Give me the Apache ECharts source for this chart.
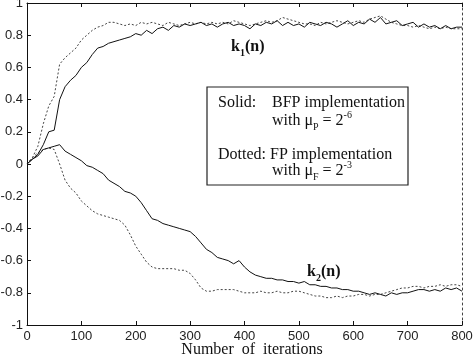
<!DOCTYPE html>
<html>
<head>
<meta charset="utf-8">
<script src="https://cdn.jsdelivr.net/npm/echarts@6/dist/echarts.min.js"></script>
<style>html,body{margin:0;padding:0;background:#fff}#c{width:474px;height:355px}</style>
</head>
<body>
<div id="c"></div>
<script>
// iterations (step 10)
const iterations = [0,10,20,30,40,50,60,70,80,90,100,110,120,130,140,150,160,170,180,190,200,210,220,230,240,250,260,270,280,290,300,310,320,330,340,350,360,370,380,390,400,410,420,430,440,450,460,470,480,490,500,510,520,530,540,550,560,570,580,590,600,610,620,630,640,650,660,670,680,690,700,710,720,730,740,750,760,770,780,790,800];

// k1(n), BFP (solid)
const k1Solid = [0.00,0.03,0.06,0.12,0.20,0.21,0.40,0.48,0.52,0.55,0.60,0.63,0.68,0.72,0.73,0.75,0.76,0.77,0.78,0.79,0.81,0.80,0.83,0.81,0.84,0.85,0.83,0.86,0.85,0.87,0.86,0.87,0.88,0.86,0.87,0.85,0.87,0.88,0.86,0.87,0.86,0.84,0.87,0.86,0.88,0.87,0.89,0.86,0.88,0.86,0.87,0.85,0.88,0.87,0.86,0.88,0.87,0.85,0.87,0.89,0.86,0.88,0.87,0.90,0.88,0.91,0.87,0.88,0.89,0.86,0.87,0.88,0.85,0.87,0.85,0.86,0.84,0.86,0.84,0.85,0.85];

// k1(n), FP (dotted)
const k1Dotted = [0.00,0.04,0.11,0.25,0.36,0.42,0.62,0.66,0.69,0.72,0.77,0.80,0.83,0.85,0.86,0.88,0.88,0.87,0.86,0.87,0.86,0.88,0.87,0.88,0.87,0.86,0.88,0.87,0.86,0.87,0.88,0.87,0.88,0.87,0.88,0.87,0.88,0.87,0.89,0.88,0.87,0.86,0.87,0.88,0.89,0.88,0.89,0.91,0.90,0.89,0.88,0.87,0.87,0.86,0.88,0.87,0.88,0.89,0.88,0.87,0.88,0.89,0.88,0.90,0.91,0.92,0.90,0.88,0.87,0.86,0.86,0.85,0.86,0.85,0.84,0.85,0.84,0.85,0.84,0.84,0.84];

// k2(n), BFP (solid)
const k2Solid = [0.00,0.03,0.05,0.09,0.10,0.11,0.12,0.08,0.06,0.04,0.02,-0.01,-0.02,-0.04,-0.06,-0.10,-0.12,-0.14,-0.17,-0.18,-0.20,-0.24,-0.29,-0.34,-0.35,-0.37,-0.38,-0.39,-0.40,-0.41,-0.42,-0.45,-0.49,-0.53,-0.55,-0.58,-0.59,-0.60,-0.62,-0.60,-0.64,-0.67,-0.69,-0.70,-0.71,-0.71,-0.72,-0.72,-0.73,-0.73,-0.74,-0.73,-0.75,-0.75,-0.76,-0.76,-0.77,-0.77,-0.78,-0.78,-0.79,-0.79,-0.80,-0.81,-0.80,-0.81,-0.82,-0.80,-0.81,-0.80,-0.80,-0.79,-0.78,-0.78,-0.79,-0.78,-0.79,-0.77,-0.78,-0.77,-0.79];

// k2(n), FP (dotted)
const k2Dotted = [0.00,0.04,0.07,0.09,0.10,0.09,0.00,-0.10,-0.15,-0.18,-0.23,-0.26,-0.29,-0.31,-0.32,-0.33,-0.34,-0.35,-0.38,-0.44,-0.51,-0.56,-0.61,-0.64,-0.65,-0.65,-0.65,-0.65,-0.66,-0.66,-0.68,-0.72,-0.77,-0.79,-0.79,-0.78,-0.78,-0.78,-0.78,-0.79,-0.80,-0.80,-0.80,-0.79,-0.80,-0.80,-0.79,-0.80,-0.80,-0.79,-0.79,-0.80,-0.81,-0.82,-0.82,-0.83,-0.83,-0.82,-0.83,-0.82,-0.82,-0.81,-0.81,-0.82,-0.81,-0.81,-0.80,-0.79,-0.78,-0.77,-0.77,-0.76,-0.76,-0.77,-0.76,-0.76,-0.75,-0.76,-0.75,-0.75,-0.76];

const xTicks = {min: 0, max: 800, interval: 100};
const yTicks = {min: -1, max: 1, interval: 0.2};
const xAxisTitle = 'Number  of  iterations';

const pairs = arr => iterations.map((n, i) => [n, arr[i]]);
const serif = '"Liberation Serif","DejaVu Serif",serif';
const sans = '"Liberation Sans","DejaVu Sans",sans-serif';

const chart = echarts.init(document.getElementById('c'), null, {renderer: 'canvas'});
const lineSolid = {color: '#111', width: 1, type: 'solid'};
const lineDotted = {color: '#444', width: 1, type: [2, 2]};

const richMu = {
  n: {fontFamily: serif, fontSize: 16, lineHeight: 22, verticalAlign: 'middle'},
  sub: {fontFamily: serif, fontSize: 10, lineHeight: 10, verticalAlign: 'bottom'},
  sup: {fontFamily: serif, fontSize: 10, lineHeight: 10, verticalAlign: 'top'}
};
const richK = {
  n: {fontFamily: serif, fontSize: 16, fontWeight: 'bold', lineHeight: 22, verticalAlign: 'middle'},
  sub: {fontFamily: serif, fontSize: 10, fontWeight: 'bold', lineHeight: 10, verticalAlign: 'bottom'}
};

chart.setOption({
  animation: false,
  backgroundColor: '#fff',
  grid: {left: 27, right: 12, top: 3, bottom: 30, containLabel: false, outerBoundsMode: 'none'},
  xAxis: [{
    type: 'value', min: xTicks.min, max: xTicks.max, interval: xTicks.interval,
    position: 'bottom',
    axisLine: {onZero: false, lineStyle: {color: '#111', width: 1}},
    axisTick: {inside: true, length: 4, lineStyle: {color: '#111'}},
    axisLabel: {color: '#222', fontFamily: sans, fontSize: 13, margin: 5},
    splitLine: {show: false}
  }, {
    type: 'value', min: xTicks.min, max: xTicks.max, interval: xTicks.interval,
    position: 'top',
    axisLine: {onZero: false, lineStyle: {color: '#111', width: 1}},
    axisTick: {inside: true, length: 4, lineStyle: {color: '#111'}},
    axisLabel: {show: false}, splitLine: {show: false}
  }],
  yAxis: [{
    type: 'value', min: yTicks.min, max: yTicks.max, interval: yTicks.interval,
    position: 'left',
    axisLine: {show: true, onZero: false, lineStyle: {color: '#111', width: 1}},
    axisTick: {show: true, inside: true, length: 4, lineStyle: {color: '#111'}},
    axisLabel: {color: '#222', fontFamily: sans, fontSize: 13, margin: 4,
      formatter: v => String(Math.round(v * 10) / 10)},
    splitLine: {show: false}
  }, {
    type: 'value', min: yTicks.min, max: yTicks.max, interval: yTicks.interval,
    position: 'right',
    axisLine: {show: true, onZero: false, lineStyle: {color: '#444', width: 1, type: [2, 3]}},
    axisTick: {show: false}, axisLabel: {show: false}, splitLine: {show: false}
  }],
  series: [
    {type: 'line', name: 'k1 FP', data: pairs(k1Dotted), showSymbol: false, lineStyle: lineDotted, z: 2},
    {type: 'line', name: 'k2 FP', data: pairs(k2Dotted), showSymbol: false, lineStyle: lineDotted, z: 2},
    {type: 'line', name: 'k1 BFP', data: pairs(k1Solid), showSymbol: false, lineStyle: lineSolid, z: 3},
    {type: 'line', name: 'k2 BFP', data: pairs(k2Solid), showSymbol: false, lineStyle: lineSolid, z: 3}
  ],
  graphic: [
    {type: 'text', x: 252, y: 350, z: 11,
     style: {text: xAxisTitle, font: '16px ' + serif, fill: '#111', align: 'center', verticalAlign: 'middle'}},
    {type: 'rect', shape: {x: 207, y: 87, width: 201, height: 98},
     style: {fill: '#fff', stroke: '#222', lineWidth: 1.2}, z: 10},
    {type: 'text', x: 218, y: 103, z: 11,
     style: {text: 'Solid:', font: '16px ' + serif, fill: '#111', verticalAlign: 'middle'}},
    {type: 'text', x: 272, y: 103, z: 11,
     style: {text: 'BFP implementation', font: '16px ' + serif, fill: '#111', verticalAlign: 'middle'}},
    {type: 'text', x: 272, y: 121, z: 11,
     style: {text: '{n|with μ}{sub|P}{n| = 2}{sup|-6}', fill: '#111', verticalAlign: 'middle', rich: richMu}},
    {type: 'text', x: 218, y: 155, z: 11,
     style: {text: 'Dotted: FP implementation', font: '16px ' + serif, fill: '#111', verticalAlign: 'middle'}},
    {type: 'text', x: 272, y: 171, z: 11,
     style: {text: '{n|with μ}{sub|F}{n| = 2}{sup|-3}', fill: '#111', verticalAlign: 'middle', rich: richMu}},
    {type: 'text', x: 231, y: 47, z: 11,
     style: {text: '{n|k}{sub|1}{n|(n)}', fill: '#111', verticalAlign: 'middle', rich: richK}},
    {type: 'text', x: 307, y: 272, z: 11,
     style: {text: '{n|k}{sub|2}{n|(n)}', fill: '#111', verticalAlign: 'middle', rich: richK}}
  ]
});
</script>
</body>
</html>
